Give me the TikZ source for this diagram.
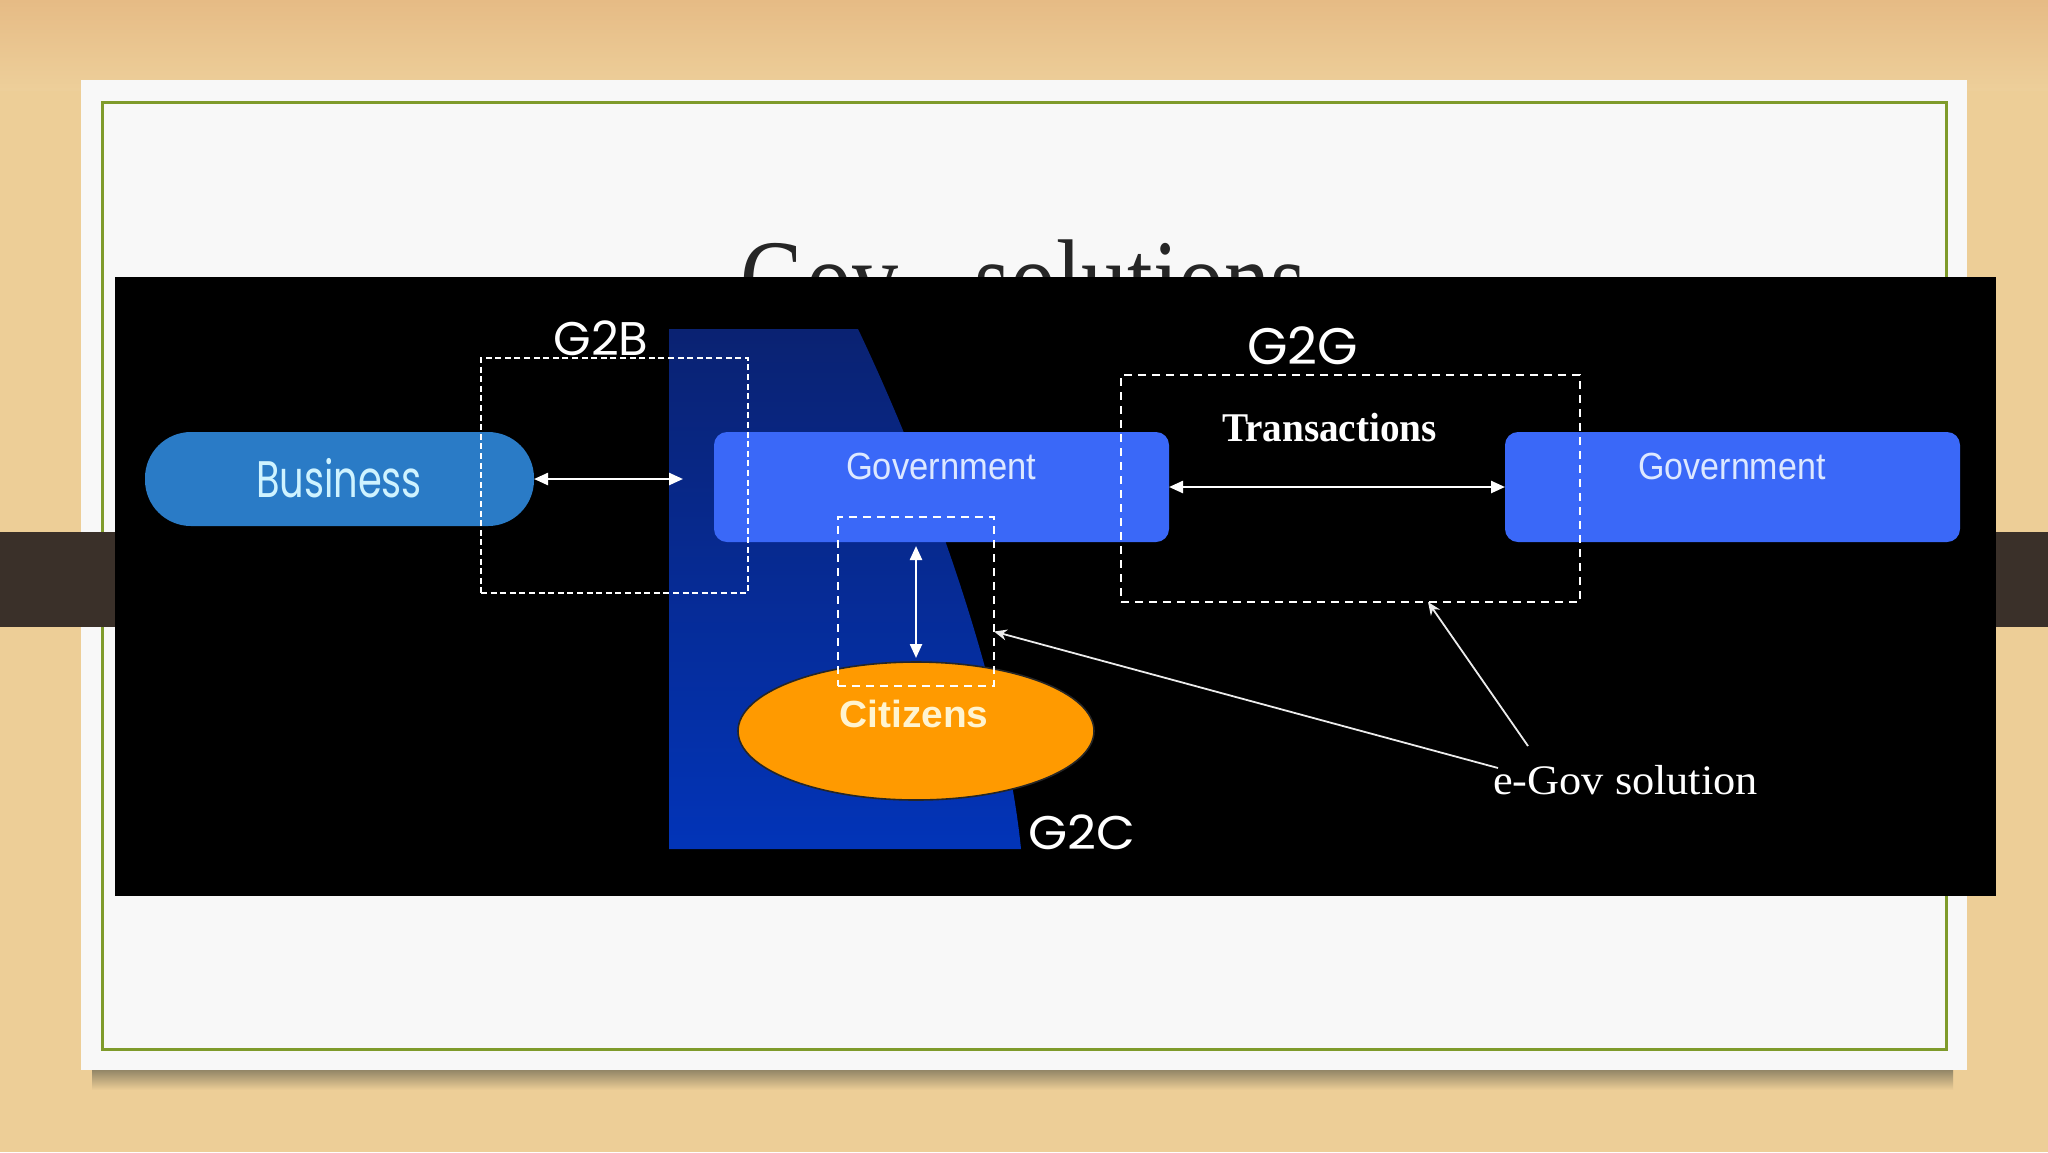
\documentclass[tikz,border=0pt]{standalone}
\usepackage{fontspec}
\usepackage{graphicx}
\setmainfont{Liberation Serif}
\newfontfamily\popf{Poppins}
\newfontfamily\lsans{Liberation Sans}
\usetikzlibrary{arrows.meta,shapes.geometric}
\newcommand{\fitw}[2]{\resizebox{#1}{\height}{#2}}
\definecolor{woodtop}{HTML}{E6BB85}
\definecolor{woodmid}{HTML}{EDCF9A}
\definecolor{woodbot}{HTML}{EDCE97}
\definecolor{shadowc}{HTML}{8A7F62}
\definecolor{slidewhite}{HTML}{F8F8F8}
\definecolor{olive}{HTML}{7F9B2B}
\definecolor{darkbar}{HTML}{3A3029}
\definecolor{navytop}{HTML}{0A2272}
\definecolor{navybot}{HTML}{0234B8}
\definecolor{govblue}{HTML}{3A68F8}
\definecolor{bizblue}{HTML}{2A7BC6}
\definecolor{citorange}{HTML}{FF9A00}
\definecolor{biztext}{HTML}{CFF3FF}
\definecolor{govtext}{HTML}{DDE8FF}
\definecolor{cittext}{HTML}{FFF4D0}
\definecolor{titlegray}{HTML}{262626}
\begin{document}
\begin{tikzpicture}[x=0.5pt,y=-0.5pt,
  govbox/.style={rectangle, fill=govblue, rounded corners=6.5pt, minimum width=227.5pt, minimum height=55pt, inner sep=0pt, outer sep=0pt},
  dashbox/.style={rectangle, draw=white, line width=0.9pt, dash pattern=on 4pt off 3pt, inner sep=0pt, outer sep=0pt},
  dashboxfine/.style={rectangle, draw=white, line width=0.8pt, dash pattern=on 3pt off 1.8pt, inner sep=0pt, outer sep=0pt},
  dbl/.style={draw=white, line width=1.2pt, {Triangle[length=7pt,width=6pt]}-{Triangle[length=7pt,width=6pt]}},
  ptr/.style={draw=white!92!black, line width=0.9pt, -{Stealth[length=6.5pt,width=5.5pt]}},
  lbl/.style={anchor=base, inner sep=0pt, outer sep=0pt}
]
\useasboundingbox (0,0) rectangle (2048,1152);
% wood background
\fill[woodbot] (0,0) rectangle (2048,1152);
\shade[top color=woodtop, bottom color=woodmid] (0,0) rectangle (2048,90);
% slide shadow
\shade[top color=shadowc, bottom color=woodbot] (92,1068) rectangle (1953,1090);
% slide
\fill[slidewhite] (81,80) rectangle (1967,1070);
\draw[olive, line width=1.5pt] (102,102) rectangle (1946,1049);
% title (partly hidden by the picture)
\node[lbl, text=titlegray] (title) at (1023,317) {\fontsize{56pt}{60pt}\selectfont\fitw{283pt}{Gov - solutions}};
% dark bar
\fill[darkbar] (0,532) rectangle (2048,627);
% black picture
\fill[black] (115,277) rectangle (1996,896);
% navy region
\shade[top color=navytop, bottom color=navybot] (669,329) -- (858,329) .. controls (930,480) and (1005,690) .. (1021,849) -- (669,849) -- cycle;
% shapes
\node[rectangle, fill=bizblue, rounded corners=23pt, minimum width=194.5pt, minimum height=47pt, inner sep=0pt, outer sep=0pt] (biz) at (339.5,479) {};
\node[govbox] (gov1) at (941.5,487) {};
\node[govbox] (gov2) at (1732.5,487) {};
\node[ellipse, fill=citorange, draw=black!85, line width=0.8pt, minimum width=178pt, minimum height=69pt, inner sep=0pt, outer sep=0pt] (cit) at (916,731) {};
% texts in shapes
\node[lbl, text=biztext] (biztxt) at (339,497) {\popf\fontsize{25.7pt}{30pt}\selectfont\fitw{83pt}{Business}};
\node[lbl, text=govtext] (gov1txt) at (941,479) {\lsans\fontsize{18.9pt}{22pt}\selectfont\fitw{95pt}{Government}};
\node[lbl, text=govtext] (gov2txt) at (1732,479) {\lsans\fontsize{18.9pt}{22pt}\selectfont\fitw{93.5pt}{Government}};
\node[lbl, text=cittext] (cittxt) at (914,727) {\lsans\bfseries\fontsize{18.9pt}{22pt}\selectfont\fitw{74.5pt}{Citizens}};
% labels
\node[lbl, text=white] (g2b) at (601,355) {\popf\fontsize{23.6pt}{28pt}\selectfont\fitw{47.5pt}{G2B}};
\node[lbl, text=white] (g2g) at (1302.5,364) {\popf\fontsize{25.7pt}{30pt}\selectfont\fitw{55.5pt}{G2G}};
\node[lbl, text=white] (g2c) at (1081.5,849) {\popf\fontsize{23.6pt}{28pt}\selectfont\fitw{53.5pt}{G2C}};
\node[lbl, text=white] (trans) at (1329.5,441) {\bfseries\fontsize{20.4pt}{24pt}\selectfont\fitw{107.5pt}{Transactions}};
\node[lbl, text=white] (egov) at (1625.5,794) {\fontsize{21pt}{25pt}\selectfont\fitw{132.5pt}{e-Gov solution}};
% dashed boxes
\node[dashboxfine, minimum width=133.5pt, minimum height=117.5pt] (g2bbox) at (614.5,475.5) {};
\node[dashbox, minimum width=229.5pt, minimum height=113.5pt] (g2gbox) at (1350.5,488.5) {};
\node[dashbox, minimum width=78pt, minimum height=84.5pt] (g2cbox) at (916,601.5) {};
% connectors
\draw[dbl, shorten >=15.5pt] (biz.east) -- (biz.east -| gov1.west);
\draw[dbl] (gov1.east) -- (gov2.west);
\draw[dbl, shorten <=2pt, shorten >=2pt] (gov1.south -| cit.north) -- (cit.north);
\coordinate (s1) at (1498,768);
\coordinate (s2) at (1528,746);
\draw[ptr] (s1) -- ([yshift=-15pt]g2cbox.east);
\draw[ptr] (s2) -- ([xshift=38.75pt]g2gbox.south);
\end{tikzpicture}
\end{document}
